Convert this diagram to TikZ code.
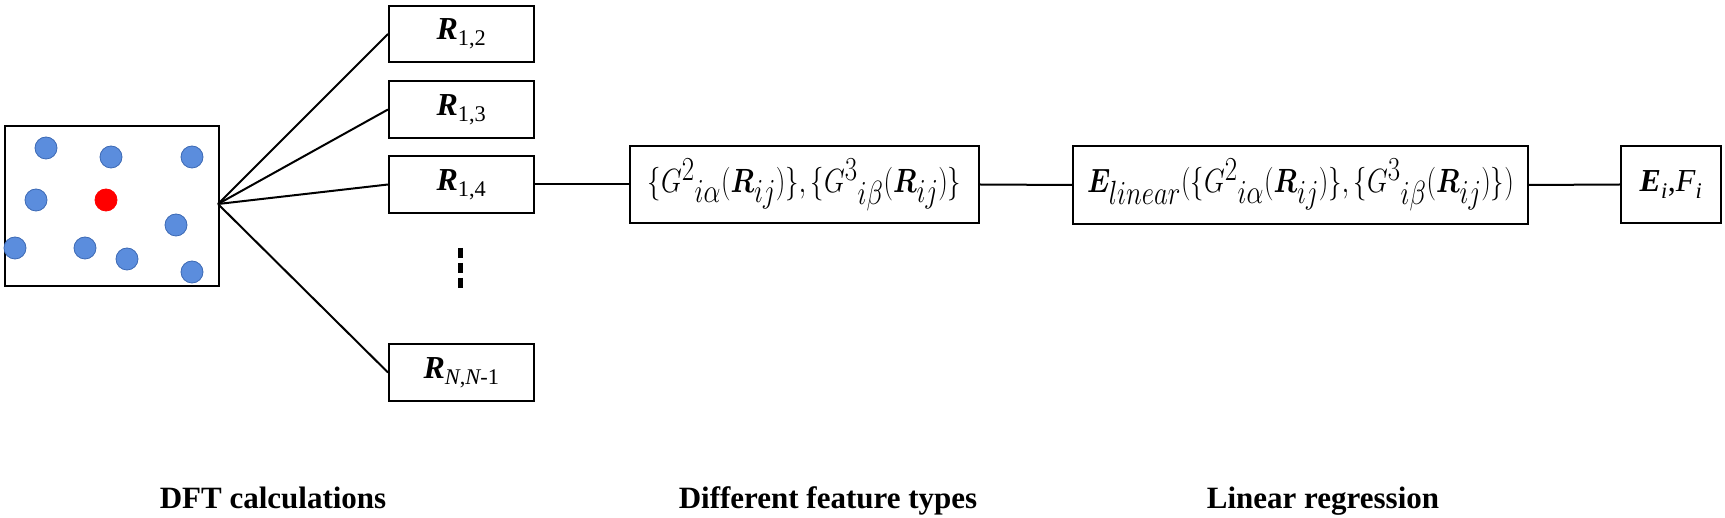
\documentclass[tikz,border=0pt]{standalone}
\usepackage{amsmath,bm,graphicx}
\usepackage{fontspec}
\setmainfont{Liberation Serif}
\definecolor{dotblue}{RGB}{91,141,221}
\definecolor{dotedge}{RGB}{60,105,180}
\newcommand{\Rb}{\textbf{\textit{R}}}
\begin{document}
\begin{tikzpicture}[x=1pt,y=-1pt,line width=2pt,
  bx/.style={draw,line width=2pt,anchor=north west,inner sep=0pt,align=center},
  lab/.style={anchor=base,font=\bfseries\fontsize{31}{36}\selectfont},
  bd/.style={circle,fill=dotblue,draw=dotedge,line width=0.8pt,minimum width=22pt,inner sep=0pt},
  rtxt/.style={font=\fontsize{32}{38}\selectfont},
  txt/.style={font=\fontsize{36}{42}\selectfont}]
\useasboundingbox (0,0) rectangle (1725,518);
\node[bx,minimum width=214pt,minimum height=160pt] (box) at (4,125) {};
\foreach \i/\x/\y in {1/46/148,2/111/157,3/192/157,4/36/200,5/176/225,6/15/248,7/85/248,8/127/259,9/192/272}
  \node[bd] (d\i) at (\x,\y) {};
\node[bd,fill=red,draw=red] (red) at (106,200) {};
\coordinate (fan) at (218,204);
\node[bx,minimum width=145pt,minimum height=56pt,rtxt] (r12) at (388,5) {\Rb$_{\text{1,2}}$};
\node[bx,minimum width=145pt,minimum height=57pt,rtxt] (r13) at (388,80) {\Rb$_{\text{1,3}}$};
\node[bx,minimum width=145pt,minimum height=57pt,rtxt] (r14) at (388,155) {\Rb$_{\text{1,4}}$};
\node[bx,minimum width=145pt,minimum height=57pt,rtxt] (rnn) at (388,343) {\Rb$_{\text{\itshape N\upshape,\itshape N\upshape-1}}$};
\coordinate (dt) at (460,248); \coordinate (db) at (460,288);
\draw[line width=5pt,dash pattern=on 10pt off 5pt] (dt) -- (db);
\foreach \n in {r12,r13,r14,rnn} \draw (fan) -- (\n.west);
\node[bx,minimum width=349pt,minimum height=77pt,txt] (g) at (629,145) {\scalebox{1.08}[1.35]{$\{G^{2}{}_{i\alpha}(\bm{R}_{ij})\},\{G^{3}{}_{i\beta}(\bm{R}_{ij})\}$}};
\node[bx,minimum width=455pt,minimum height=78pt,txt] (e) at (1072,145) {\scalebox{1.08}[1.35]{$\bm{E}_{linear}(\{G^{2}{}_{i\alpha}(\bm{R}_{ij})\},\{G^{3}{}_{i\beta}(\bm{R}_{ij})\})$}};
\node[bx,minimum width=100pt,minimum height=77pt,rtxt] (ef) at (1620,145) {\textbf{\textit{E}}$_{\textit{i}}$,\textit{F}$_{\textit{i}}$};
\draw (r14.east) -- (g.west);
\draw (g.east) -- (e.west);
\draw (e.east) -- (ef.west);
\node[lab] (l1) at (273,508) {DFT calculations};
\node[lab] (l2) at (828,508) {Different feature types};
\node[lab] (l3) at (1323,508) {Linear regression};
\end{tikzpicture}
\end{document}
